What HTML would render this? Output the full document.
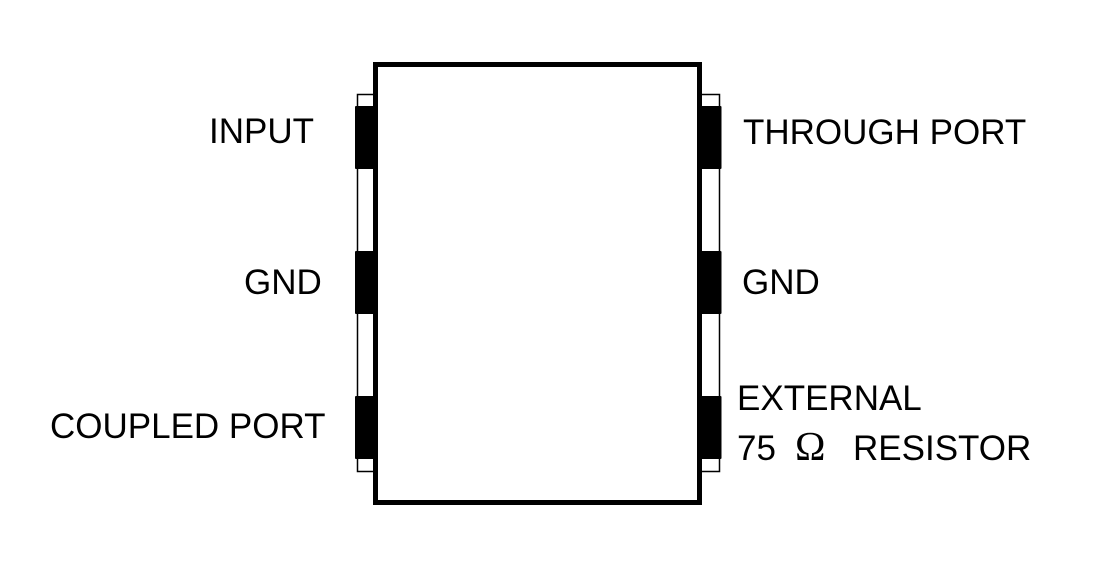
<!DOCTYPE html>
<html>
<head>
<meta charset="utf-8">
<style>
  html, body { margin:0; padding:0; background:#fff; }
  svg { display:block; }
  .t { font-family: "Liberation Sans", Arial, sans-serif; font-size:35px; fill:#000; }
  .o { font-family: "Liberation Serif", "Times New Roman", serif; font-size:41px; fill:#000; }
</style>
</head>
<body>
<svg width="1117" height="572" viewBox="0 0 1117 572" xmlns="http://www.w3.org/2000/svg">
  <rect x="0" y="0" width="1117" height="572" fill="#fff"/>

  <!-- left pin outline -->
  <rect x="357.5" y="94.5" width="17" height="377" fill="#fff" stroke="#000" stroke-width="1.5"/>
  <!-- right pin outline -->
  <rect x="700" y="94.5" width="19.5" height="377" fill="#fff" stroke="#000" stroke-width="1.5"/>

  <!-- body -->
  <rect x="375.5" y="64.5" width="324" height="438" fill="#fff" stroke="#000" stroke-width="5"/>

  <!-- left pads -->
  <rect x="355" y="106" width="20" height="63" rx="1" fill="#000"/>
  <rect x="355" y="251" width="20" height="63" rx="1" fill="#000"/>
  <rect x="355" y="396" width="20" height="63" rx="1" fill="#000"/>
  <!-- right pads -->
  <rect x="700" y="106" width="21.5" height="63" rx="1" fill="#000"/>
  <rect x="700" y="251" width="21.5" height="63" rx="1" fill="#000"/>
  <rect x="700" y="396" width="21.5" height="63" rx="1" fill="#000"/>

  <!-- left labels -->
  <text class="t" x="209" y="143">INPUT</text>
  <text class="t" x="244" y="294">GND</text>
  <text class="t" x="50" y="438">COUPLED PORT</text>

  <!-- right labels -->
  <text class="t" x="743" y="144">THROUGH PORT</text>
  <text class="t" x="742" y="294">GND</text>
  <text class="t" x="737" y="410">EXTERNAL</text>
  <text class="t" x="737" y="460">75</text>
  <text class="o" x="795" y="460">Ω</text>
  <text class="t" x="853" y="460">RESISTOR</text>
</svg>
</body>
</html>
